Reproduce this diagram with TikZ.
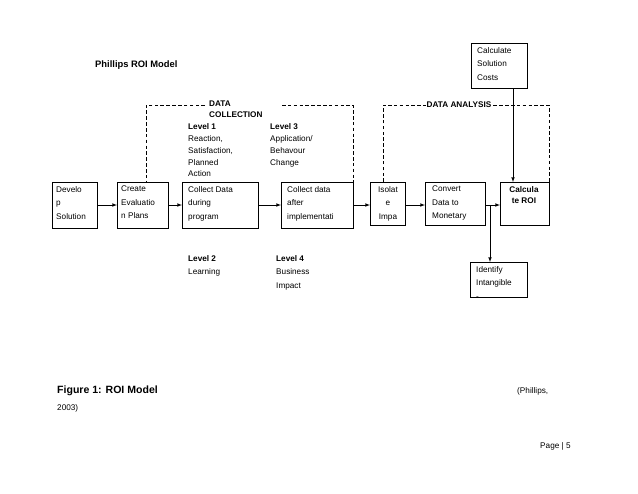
\documentclass[tikz,border=0pt]{standalone}
\usepackage{fontspec}
\setmainfont{Liberation Sans}
\usetikzlibrary{positioning}
\tikzset{
  box/.style={draw, thick, anchor=north west, align=left, inner sep=2pt, font=\fontsize{7}{10}\selectfont},
  txt/.style={anchor=north west, align=left, inner sep=0pt, font=\fontsize{7}{11.5}\selectfont},
  flow/.style={-latex, thin},
  frame/.style={densely dashed, thin}
}
\begin{document}
\begin{tikzpicture}[x=0.03cm, y=-0.03cm]
        \useasboundingbox (0,0) rectangle (638,493);
        \node[txt, font=\fontsize{8}{10}\selectfont\bfseries] (title) at (95,60) {Phillips ROI Model};
        % process boxes
        \draw[thick] (52,182) rectangle (97,228);
        \node[txt] (dev) at (56,186) {Develo\\p\\Solution};
        \draw[thick] (117,182) rectangle (168,228);
        \node[txt] (cre) at (121,186) {Create\\Evaluatio\\n Plans};
        \draw[thick] (182,182) rectangle (258,228);
        \node[txt] (cdd) at (188,186) {Collect Data\\during\\program};
        \draw[thick] (281,182) rectangle (353,228);
        \node[txt] (cda) at (287,186) {Collect data\\after\\implementati};
        \draw[thick] (370,182) rectangle (405,225);
        \node[txt, align=center, anchor=north] (iso) at (388,186) {Isolat\\e\\Impa};
        \draw[thick] (425,182) rectangle (485,225);
        \node[txt] (con) at (432,186) {Convert\\Data to\\Monetary};
        \draw[thick] (500,182) rectangle (549,225);
        \node[txt, align=center, anchor=north, font=\fontsize{7}{10}\selectfont\bfseries] (roi) at (524,186) {Calcula\\te ROI};
        \draw[thick] (471,43) rectangle (527,88);
        \node[txt] (cst) at (477,47) {Calculate\\Solution\\Costs};
        \draw[thick] (470,262) rectangle (527,297);
        \node[txt] (int) at (476,266) {Identify\\Intangible\\-};
        % connectors
        \coordinate (a0) at (97,205); \coordinate (a1) at (117,205);
        \coordinate (b0) at (168,205); \coordinate (b1) at (182,205);
        \coordinate (c0) at (258,205); \coordinate (c1) at (281,205);
        \coordinate (d0) at (353,205); \coordinate (d1) at (370,205);
        \coordinate (e0) at (405,205); \coordinate (e1) at (425,205);
        \coordinate (f0) at (485,205); \coordinate (f1) at (500,205);
        \coordinate (br) at (490,205); \coordinate (brd) at (490,262);
        \coordinate (k0) at (513,88); \coordinate (k1) at (513,182);
        \draw[flow] (a0) -- (a1);
        \draw[flow] (b0) -- (b1);
        \draw[flow] (c0) -- (c1);
        \draw[flow] (d0) -- (d1);
        \draw[flow] (e0) -- (e1);
        \draw[flow] (f0) -- (f1);
        \draw[flow] (br) -- (brd);
        \draw[flow] (k0) -- (k1);
        % dashed frames
        \draw[frame] (205,105) -- (146,105) -- (146,182);
        \draw[frame] (282,105) -- (353,105) -- (353,182);
        \draw[frame] (383,182) -- (383,105) -- (549,105) -- (549,182);
        \node[txt, font=\fontsize{7}{9}\selectfont\bfseries] (dc) at (209,101) {DATA\\COLLECTION};
        \node[fill=white, inner sep=1pt, font=\fontsize{7}{9}\selectfont\bfseries] (da) at (459,105) {DATA ANALYSIS};
        % levels
        \node[txt, font=\fontsize{7}{10.2}\selectfont] (l1) at (188,123) {\textbf{Level 1}\\Reaction,\\Satisfaction,\\Planned\\Action};
        \node[txt, font=\fontsize{7}{10.2}\selectfont] (l3) at (270,123) {\textbf{Level 3}\\Application/\\Behavour\\Change};
        \node[txt] (l2) at (188,255) {\textbf{Level 2}\\Learning};
        \node[txt] (l4) at (276,255) {\textbf{Level 4}\\Business\\Impact};
        % caption
        \node[txt, font=\fontsize{9}{12}\selectfont\bfseries] (fig) at (57,386) {Figure 1: ROI Model};
        \node[txt, font=\fontsize{7}{9}\selectfont] (ref1) at (517,387) {(Phillips,};
        \node[txt, font=\fontsize{7}{9}\selectfont] (ref2) at (57,404) {2003)};
        \node[txt, font=\fontsize{7}{9}\selectfont] (pg) at (540,442) {Page | 5};
      \end{tikzpicture}
\end{document}
